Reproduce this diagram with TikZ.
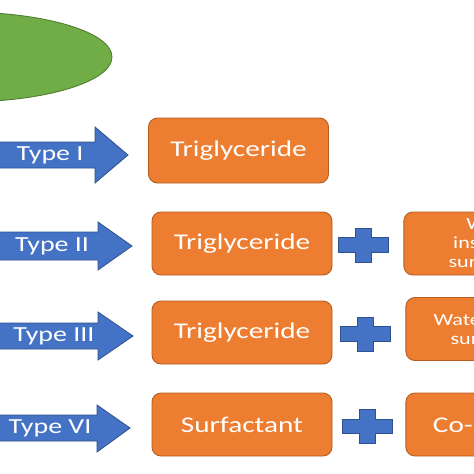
\documentclass[tikz,border=0pt]{standalone}
\usepackage{xcolor}
\usepackage{fontspec}
\setmainfont[FakeStretch=1.3]{Carlito}
\usepackage{tikz}
\usetikzlibrary{positioning}

\definecolor{boxorange}{HTML}{ED7D31}
\definecolor{boxedge}{HTML}{B55D22}
\definecolor{arrowblue}{HTML}{4472C4}
\definecolor{arrowedge}{HTML}{2F528F}
\definecolor{ovalgreen}{HTML}{70AD47}
\definecolor{ovaledge}{HTML}{507E32}

\begin{document}
\begin{tikzpicture}[x=1pt, y=-1pt,
  stage/.style={draw=boxedge, fill=boxorange, rounded corners=9pt, line width=0.9pt,
    minimum width=180pt, minimum height=63pt, text=white, align=center, inner sep=0pt},
  bigtext/.style={font=\fontsize{22.5}{26}\selectfont},
  smalltext/.style={font=\fontsize{17}{19}\selectfont},
  typelabel/.style={text=white, font=\fontsize{21.5}{24}\selectfont, inner sep=0pt},
  bluefill/.style={fill=arrowblue, draw=arrowedge, line width=0.8pt}]
\useasboundingbox (0,0) rectangle (474,474);
\fill[white] (0,0) rectangle (474,474);
\clip (0,0) rectangle (474,474);

% Oval (cut at the left edge)
\draw[fill=ovalgreen, draw=ovaledge, line width=0.9pt] (-38,57) ellipse [x radius=150pt, y radius=45pt];

% Type arrows
\draw[bluefill] (-10,142) -- (95,142) -- (95,127) -- (128,155) -- (95,183) -- (95,168) -- (-10,168) -- cycle;
\node[typelabel] (type1) at (50,155) {Type I};

\draw[bluefill] (-10,232) -- (98,232) -- (98,222) -- (132,246) -- (98,270) -- (98,260) -- (-10,260) -- cycle;
\node[typelabel] (type2) at (52,246) {Type II};

\draw[bluefill] (-10,323) -- (98,323) -- (98,312) -- (133,336) -- (98,360) -- (98,349) -- (-10,349) -- cycle;
\node[typelabel] (type3) at (54,336) {Type III};

\draw[bluefill] (-10,415) -- (97,415) -- (97,405) -- (130,428) -- (97,452) -- (97,441) -- (-10,441) -- cycle;
\node[typelabel] (type4) at (50,428) {Type VI};

% Components
\node[stage, bigtext, minimum height=65pt] (tri1) at (238.5,150.5) {Triglyceride};

\node[stage, bigtext] (tri2) at (242,243.5) {Triglyceride};
\node[stage, smalltext, right=71pt of tri2] (winsol) {Water\\insoluble\\surfactant};

\node[stage, bigtext] (tri3) at (242,332.5) {Triglyceride};
\node[stage, smalltext, right=73pt of tri3, yshift=3.5pt] (wsol) {Water soluble\\surfactant};

\node[stage, bigtext] (surf) at (242,424.5) {Surfactant};
\node[stage, bigtext, right=73pt of surf] (cosolv) {Co-solvent};

% Plus signs
\draw[bluefill] (338,237.5) -- (355,237.5) -- (355,228) -- (371,228) -- (371,237.5) -- (388,237.5)
  -- (388,252.5) -- (371,252.5) -- (371,262) -- (355,262) -- (355,252.5) -- (338,252.5) -- cycle;
\draw[bluefill] (340,326.5) -- (357,326.5) -- (357,317) -- (373,317) -- (373,326.5) -- (390,326.5)
  -- (390,341.5) -- (373,341.5) -- (373,351) -- (357,351) -- (357,341.5) -- (340,341.5) -- cycle;
\draw[bluefill] (342,419.5) -- (359,419.5) -- (359,409) -- (375,409) -- (375,419.5) -- (392,419.5)
  -- (392,433.5) -- (375,433.5) -- (375,443) -- (359,443) -- (359,433.5) -- (342,433.5) -- cycle;
\end{tikzpicture}
\end{document}
